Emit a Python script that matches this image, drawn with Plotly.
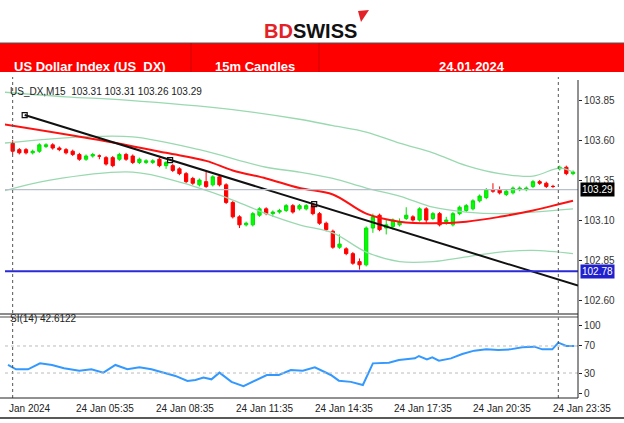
import plotly.graph_objects as go

W, H = 624, 423

opens = [103.58,103.54,103.54,103.52,103.53,103.56,103.57,103.55,103.54,103.53,103.51,103.48,103.50,103.50,103.49,103.49,103.48,103.51,103.50,103.46,103.46,103.46,103.48,103.44,103.44,103.42,103.39,103.36,103.32,103.34,103.32,103.37,103.32,103.21,103.12,103.07,103.07,103.13,103.17,103.14,103.15,103.16,103.19,103.17,103.17,103.19,103.14,103.08,103.03,102.93,102.92,102.89,102.84,102.82,103.05,103.13,103.05,103.06,103.07,103.11,103.12,103.10,103.17,103.11,103.14,103.09,103.07,103.14,103.16,103.17,103.22,103.24,103.29,103.29,103.26,103.27,103.29,103.29,103.31,103.34,103.33,103.31,103.42,103.43,103.39]
closes = [103.53,103.52,103.52,103.53,103.57,103.57,103.55,103.54,103.52,103.51,103.48,103.50,103.51,103.50,103.45,103.44,103.51,103.48,103.46,103.48,103.47,103.47,103.44,103.46,103.41,103.39,103.34,103.33,103.35,103.31,103.37,103.32,103.21,103.12,103.07,103.08,103.14,103.17,103.14,103.15,103.16,103.19,103.15,103.19,103.19,103.14,103.08,103.04,102.93,102.95,102.89,102.83,102.82,103.05,103.12,103.04,103.07,103.10,103.09,103.13,103.10,103.17,103.10,103.14,103.07,103.10,103.14,103.18,103.19,103.22,103.25,103.29,103.28,103.27,103.28,103.30,103.30,103.30,103.34,103.33,103.31,103.31,103.43,103.39,103.40]
highs = [103.60,103.55,103.55,103.54,103.58,103.58,103.58,103.56,103.55,103.54,103.52,103.51,103.52,103.51,103.50,103.50,103.52,103.52,103.51,103.49,103.48,103.48,103.49,103.47,103.45,103.43,103.40,103.37,103.36,103.40,103.38,103.38,103.33,103.22,103.13,103.09,103.15,103.18,103.18,103.16,103.17,103.20,103.20,103.20,103.20,103.20,103.15,103.09,103.04,103.01,102.93,102.90,102.86,103.06,103.14,103.14,103.10,103.11,103.11,103.18,103.13,103.18,103.18,103.15,103.15,103.12,103.15,103.19,103.20,103.23,103.26,103.30,103.33,103.31,103.29,103.31,103.31,103.31,103.35,103.35,103.34,103.32,103.44,103.44,103.41]
lows = [103.51,103.51,103.51,103.51,103.52,103.55,103.54,103.53,103.51,103.50,103.47,103.47,103.49,103.48,103.44,103.43,103.47,103.47,103.45,103.45,103.45,103.45,103.43,103.42,103.40,103.38,103.33,103.32,103.31,103.30,103.31,103.31,103.20,103.11,103.05,103.06,103.06,103.12,103.13,103.12,103.14,103.15,103.14,103.16,103.16,103.13,103.07,103.03,102.92,102.92,102.88,102.82,102.79,102.81,103.02,103.03,103.01,103.04,103.06,103.10,103.09,103.09,103.08,103.10,103.06,103.07,103.06,103.13,103.15,103.16,103.21,103.23,103.27,103.26,103.25,103.26,103.28,103.28,103.30,103.32,103.30,103.30,103.41,103.38,103.38]
bars = list(range(len(opens)))

ma_x = [-1.5,13,23,29,33,38,43,48,53,58,63,68,73,78,82,84]
ma_y = [103.70,103.60,103.52,103.47,103.41,103.36,103.30,103.26,103.14,103.09,103.08,103.09,103.12,103.16,103.20,103.22]

bb_up_x = [-1.5,8,17,33,43,48,53,58,63,68,73,78,82,84]
bb_up_y = [103.90,103.87,103.85,103.79,103.73,103.69,103.65,103.58,103.52,103.44,103.39,103.375,103.425,103.40]
bb_mid_x = [-1.5,10.6,18,28,38,43,48,53,58,63,68,73,78,84]
bb_mid_y = [103.58,103.62,103.62,103.54,103.43,103.40,103.36,103.30,103.25,103.18,103.15,103.14,103.15,103.17]
bb_lo_x = [-1.5,5.6,18,25.6,33,38,43,48,53,58,63,68,73,78,84]
bb_lo_y = [103.28,103.35,103.40,103.33,103.225,103.14,103.07,103.02,102.90,102.84,102.84,102.87,102.90,102.91,102.89]

trend_x = [1.8,23.6,45.2,84.75]
trend_y = [103.756,103.475,103.20,102.69]

rsi_x = [-0.7,0.5,2.3,4.1,5.9,7.7,10.0,11.8,13.6,15.4,17.2,19.0,20.8,22.6,24.4,26.2,27.4,28.6,29.8,31.0,32.8,34.6,36.4,38.1,39.9,41.7,43.5,45.3,47.7,48.9,50.7,52.5,54.0,55.2,56.4,57.9,60.3,60.9,62.1,62.9,63.9,65.7,67.4,69.2,71.0,72.8,74.6,76.4,78.2,79.4,80.9,81.8,83.0,84.2]
rsi_y = [41.9,35.5,35.5,44.3,41.9,37.0,33.5,35.5,30.6,41.9,35.5,38.4,35.5,30.6,25.7,18.2,19.7,23.2,20.7,30.6,16.9,10.6,19.7,27.1,27.1,34.5,33.5,38.4,27.1,18.7,16.9,12.3,44.3,45.3,45.3,49.3,51.7,55.2,50.2,53.2,48.2,51.7,58.1,63.1,65.0,64.0,65.0,68.0,69.0,65.0,65.0,74.9,70.0,70.0]

price_ticks = [103.85, 103.60, 103.35, 103.10, 102.85, 102.60]
rsi_ticks = [100, 70, 30, 0]
time_label_x = [2.6, 13.9, 25.8, 37.8, 49.6, 61.5, 73.4, 85.3]
time_labels = ["Jan 2024", "24 Jan 05:35", "24 Jan 08:35", "24 Jan 11:35",
               "24 Jan 14:35", "24 Jan 17:35", "24 Jan 20:35", "24 Jan 23:35"]
bid_level = 103.29
support_level = 102.78

def px(x): return x / W
def py(y): return 1 - y / H

XR = [-1.15, 84.75]
DOM = [px(5), px(578)]
def bar_to_paper(i):
    return DOM[0] + (i - XR[0]) / (XR[1] - XR[0]) * (DOM[1] - DOM[0])

FONT = "Liberation Sans"
green = "#9ad9b0"

fig = go.Figure()
for xs, ys in [(bb_up_x, bb_up_y), (bb_mid_x, bb_mid_y), (bb_lo_x, bb_lo_y)]:
    fig.add_trace(go.Scatter(x=xs, y=ys, mode="lines", line=dict(color=green, width=1.3, shape="spline"),
                             xaxis="x", yaxis="y", hoverinfo="skip"))
fig.add_trace(go.Scatter(x=ma_x, y=ma_y, mode="lines", line=dict(color="#ff1010", width=2, shape="spline"),
                         xaxis="x", yaxis="y"))
fig.add_trace(go.Candlestick(x=bars, open=opens, high=highs, low=lows, close=closes,
                             increasing=dict(line=dict(color="#00e000", width=1), fillcolor="#00ff00"),
                             decreasing=dict(line=dict(color="#ff0000", width=1), fillcolor="#ff0000"),
                             whiskerwidth=0, xaxis="x", yaxis="y"))
fig.add_trace(go.Scatter(x=trend_x, y=trend_y, mode="lines", line=dict(color="#111111", width=2),
                         xaxis="x", yaxis="y"))
fig.add_trace(go.Scatter(x=trend_x[:3], y=trend_y[:3], mode="markers",
                         marker=dict(symbol="square-open", size=5, color="#111111", line=dict(width=1.2)),
                         xaxis="x", yaxis="y"))
fig.add_trace(go.Scatter(x=rsi_x, y=rsi_y, mode="lines", line=dict(color="#3399ff", width=2),
                         xaxis="x2", yaxis="y2"))

shapes = []
shapes.append(dict(type="line", xref="paper", yref="y", x0=px(5), x1=px(578), y0=bid_level, y1=bid_level,
                   line=dict(color="#b8c0cc", width=1.2)))
shapes.append(dict(type="line", xref="paper", yref="y", x0=px(5), x1=px(578), y0=support_level, y1=support_level,
                   line=dict(color="#2a2ad8", width=2)))
for xv in [0, 81.8]:
    shapes.append(dict(type="line", xref="x", yref="paper", x0=xv, x1=xv, y0=py(313), y1=py(77),
                       line=dict(color="#555", width=1, dash="dot")))
    shapes.append(dict(type="line", xref="x2", yref="paper", x0=xv, x1=xv, y0=py(398), y1=py(317),
                       line=dict(color="#555", width=1, dash="dot")))
for lv in [70, 30]:
    shapes.append(dict(type="line", xref="paper", yref="y2", x0=px(5), x1=px(578), y0=lv, y1=lv,
                       line=dict(color="#bbbbbb", width=1, dash="dot")))
shapes.append(dict(type="line", xref="paper", yref="paper", x0=0, x1=px(578), y0=py(314), y1=py(314), line=dict(color="#666", width=1.5)))
shapes.append(dict(type="line", xref="paper", yref="paper", x0=0, x1=px(578), y0=py(317), y1=py(317), line=dict(color="#888", width=1.5)))
shapes.append(dict(type="line", xref="paper", yref="paper", x0=0, x1=px(578), y0=py(398), y1=py(398), line=dict(color="#222", width=1)))
shapes.append(dict(type="line", xref="paper", yref="paper", x0=px(578), x1=px(578), y0=py(398), y1=py(80), line=dict(color="#222", width=1)))
shapes.append(dict(type="line", xref="paper", yref="paper", x0=0, x1=1, y0=py(418), y1=py(418), line=dict(color="#222", width=1.5)))
shapes.append(dict(type="rect", xref="paper", yref="paper", x0=0, x1=1, y0=py(72), y1=py(43),
                   fillcolor="#ff0000", line=dict(width=0), layer="below"))
shapes.append(dict(type="line", xref="paper", yref="paper", x0=0, x1=1, y0=py(43), y1=py(43), line=dict(color="#555", width=1)))
for xv in [191, 319]:
    shapes.append(dict(type="line", xref="paper", yref="paper", x0=px(xv), x1=px(xv), y0=py(72), y1=py(43),
                       line=dict(color="#d00000", width=1)))
shapes.append(dict(type="path", xref="paper", yref="paper",
                   path=f"M {px(358)} {py(11)} L {px(369)} {py(10)} L {px(361)} {py(22)} Z",
                   fillcolor="#e32228", line=dict(width=0)))

ann = []
ann.append(dict(xref="paper", yref="paper", x=px(310), y=py(18), xanchor="center", showarrow=False,
                text="<b><span style='color:#e32228'>BD</span>SWISS</b>", font=dict(family=FONT, size=20, color="#111")))
ann.append(dict(xref="paper", yref="paper", x=px(12), y=py(57), xanchor="left", showarrow=False,
                text="<b>US Dollar Index (US_DX)</b>", font=dict(family=FONT, size=13, color="white")))
ann.append(dict(xref="paper", yref="paper", x=px(255), y=py(57), xanchor="center", showarrow=False,
                text="<b>15m Candles</b>", font=dict(family=FONT, size=13, color="white")))
ann.append(dict(xref="paper", yref="paper", x=px(472), y=py(57), xanchor="center", showarrow=False,
                text="<b>24.01.2024</b>", font=dict(family=FONT, size=13, color="white")))
ann.append(dict(xref="paper", yref="paper", x=px(8), y=py(84), xanchor="left", showarrow=False,
                text="US_DX,M15  103.31 103.31 103.26 103.29", font=dict(family=FONT, size=10, color="#222")))
ann.append(dict(xref="paper", yref="paper", x=px(8), y=py(326), xanchor="left", showarrow=False,
                text="SI(14) 42.6122", font=dict(family=FONT, size=10, color="#222")))
for tx, tl in zip(time_label_x, time_labels):
    ann.append(dict(xref="paper", yref="paper", x=bar_to_paper(tx), y=py(408), xanchor="center",
                    yanchor="middle", showarrow=False, text=tl, font=dict(family=FONT, size=10, color="#222")))
ann.append(dict(xref="paper", yref="y", x=px(580), y=bid_level, xanchor="left", showarrow=False,
                text=f"{bid_level:.2f}", bgcolor="#000", borderpad=1, font=dict(family=FONT, size=10, color="white")))
ann.append(dict(xref="paper", yref="y", x=px(580), y=support_level, xanchor="left", showarrow=False,
                text=f"{support_level:.2f}", bgcolor="#2020cc", borderpad=1, font=dict(family=FONT, size=10, color="white")))

fig.update_layout(
    width=W, height=H, margin=dict(l=0, r=0, t=0, b=0), showlegend=False,
    paper_bgcolor="white", plot_bgcolor="white", shapes=shapes, annotations=ann,
    xaxis=dict(domain=DOM, range=XR, showgrid=False, showticklabels=False, zeroline=False,
               rangeslider=dict(visible=False), anchor="y", fixedrange=True),
    yaxis=dict(domain=[py(313), py(77)], range=[102.519, 103.994], side="right", tickvals=price_ticks,
               ticktext=[f"{v:.2f}" for v in price_ticks], ticks="outside", ticklen=3, tickcolor="#222",
               showgrid=False, zeroline=False, tickfont=dict(family=FONT, size=10, color="#333"), anchor="x"),
    xaxis2=dict(domain=DOM, range=XR, showgrid=False, showticklabels=False, zeroline=False, anchor="y2"),
    yaxis2=dict(domain=[py(398), py(317)], range=[-6.95, 112.9], side="right", tickvals=rsi_ticks,
                ticks="outside", ticklen=3, tickcolor="#222", showgrid=False, zeroline=False,
                tickfont=dict(family=FONT, size=10, color="#333"), anchor="x2"),
)
fig.write_html("out.html", config={"displayModeBar": False},
               post_script="document.body.style.margin='0';document.body.style.overflow='hidden';")
